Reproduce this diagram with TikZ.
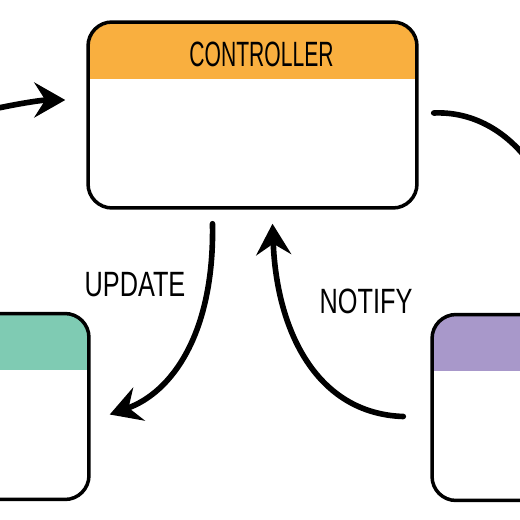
\documentclass[tikz,border=0pt]{standalone}
\usepackage{fontspec}
\newfontfamily\handfont[FakeStretch=0.72]{Liberation Sans}
\newfontfamily\handnarrow[FakeStretch=0.6]{Liberation Sans}
\usetikzlibrary{arrows.meta,calc}
\definecolor{ctrlorange}{HTML}{F9AF3F}
\definecolor{viewgreen}{HTML}{7FCBB3}
\definecolor{modelpurple}{HTML}{A898CA}

\begin{document}
\begin{tikzpicture}[x=0.02cm,y=-0.02cm,>={Stealth[length=0.62cm,width=0.7cm,inset=0.22cm]},
  box/.style={draw,line width=2pt,rounded corners=0.48cm,fill=white,inner sep=0pt,
    minimum width=6.58cm,minimum height=3.72cm,
    path picture={\fill[#1,sharp corners] (path picture bounding box.north west) rectangle ([yshift=-1.13cm]path picture bounding box.north east);}},
  flow/.style={->,line width=3.2pt,line cap=round},
  lbl/.style={font=\handfont\fontsize{20}{24}\selectfont,inner sep=0pt}]
\clip (0,0) rectangle (520,520);
% the three boxes
\node[box=ctrlorange] (ctrl) at (252.5,115) {};
\node[box=viewgreen] (view) at (-75.5,406.5) {};
\node[box=modelpurple] (model) at (596.5,407.5) {};
\node[lbl] (ctrltitle) at ($(ctrl.north)+(9,34)$) {\handnarrow CONTROLLER};
% arrows round the cycle
\coordinate (tail) at (-40,118);
\draw[flow] (tail) .. controls (-10,108) and (40,100) .. ($(ctrl.west)+(-21,-15)$);
\draw[flow] ($(ctrl.east)+(15,-2)$) .. controls (500,110) and (560,170) .. ($(model.north)+(-26,-15)$);
\draw[flow] ($(ctrl.south)+(-40,14)$) .. controls +(2,110) and +(62,-22) .. ($(view.east)+(19,8)$);
\draw[flow] ($(model.west)+(-27,9)$) .. controls +(-88,-3) and +(4,105) .. ($(ctrl.south)+(20,14)$);
\node[lbl] (update) at (135,285) {UPDATE};
\node[lbl] (notify) at (366,301) {NOTIFY};
\end{tikzpicture}
\end{document}
